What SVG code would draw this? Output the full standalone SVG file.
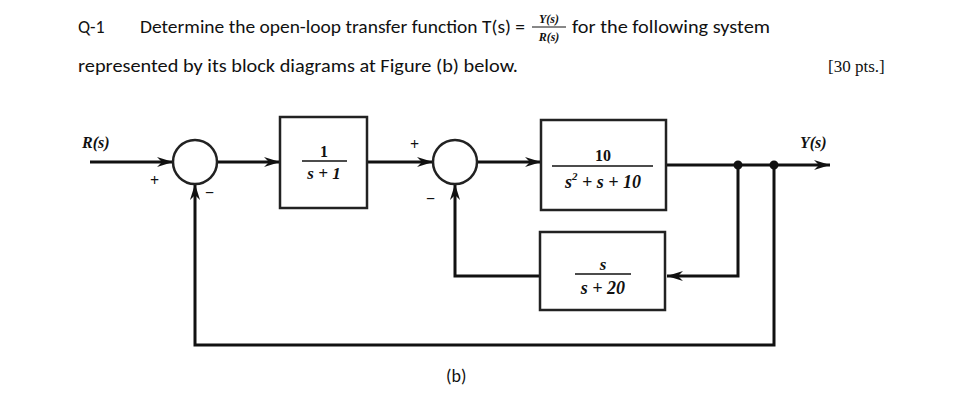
<svg xmlns="http://www.w3.org/2000/svg" width="970" height="403" viewBox="0 0 970 403">
<style>
.h{font-family:"Carlito","Liberation Sans",sans-serif;font-size:18px;fill:#111}
.m{font-family:"Liberation Serif",serif;font-weight:bold;font-style:italic;fill:#111}
.n{font-family:"Liberation Serif",serif;font-weight:bold;fill:#111;font-size:16px}
.ln{stroke:#111;stroke-width:3;fill:none}
.bx{stroke:#222;stroke-width:2.5;fill:#fff}
</style>
<defs><marker id="a" viewBox="0 0 16 10" refX="16" refY="5" markerWidth="16" markerHeight="10" orient="auto" markerUnits="userSpaceOnUse"><path d="M0,0 L16,5 L0,10 L5,5Z" fill="#111"/></marker></defs>
<rect width="970" height="403" fill="#fff"/>
<text class="h" x="78" y="33">Q-1</text>
<text class="h" x="140" y="33" textLength="385" lengthAdjust="spacingAndGlyphs">Determine the open-loop transfer function T(s) =</text>
<text class="m" x="549" y="23" font-size="12" font-weight="normal" text-anchor="middle">Y(s)</text>
<line x1="532" y1="27" x2="566" y2="27" stroke="#111" stroke-width="1"/>
<text class="m" x="549" y="41" font-size="12" font-weight="normal" text-anchor="middle">R(s)</text>
<text class="h" x="572" y="33" textLength="198" lengthAdjust="spacingAndGlyphs">for the following system</text>
<text class="h" x="78" y="72" textLength="440" lengthAdjust="spacingAndGlyphs">represented by its block diagrams at Figure (b) below.</text>
<text x="828" y="72" font-family="Liberation Serif,serif" font-size="17" fill="#111">[30 pts.]</text>
<text class="h" x="446" y="382">(b)</text>
<g id="connectors" class="ln">
<line x1="90" y1="162" x2="173" y2="162" marker-end="url(#a)"/>
<line x1="217" y1="162" x2="280" y2="162" marker-end="url(#a)"/>
<line x1="367" y1="162" x2="433" y2="162" marker-end="url(#a)"/>
<line x1="477" y1="162" x2="541" y2="162" marker-end="url(#a)"/>
<line x1="666" y1="165" x2="830" y2="165" marker-end="url(#a)"/>
<polyline points="738,165 738,276 667,276" marker-end="url(#a)"/>
<polyline points="540,276 455,276 455,184" marker-end="url(#a)"/>
<polyline points="774,165 774,345 195,345 195,184" marker-end="url(#a)"/>
<circle cx="738" cy="165" r="3" fill="#111"/>
<circle cx="774" cy="165" r="3" fill="#111"/>
</g>
<g id="sum1"><circle cx="195" cy="162" r="22" class="bx" stroke-width="2"/><text class="n" x="150" y="186">+</text><text class="n" x="205" y="198">−</text></g>
<g id="sum2"><circle cx="455" cy="162" r="22" class="bx" stroke-width="2"/><text class="n" x="410" y="150">+</text><text class="n" x="426" y="204">−</text></g>
<g id="g1"><rect x="280" y="117" width="87" height="91" class="bx"/><text class="n" x="324" y="157" text-anchor="middle" font-size="15">1</text><line x1="302" y1="161" x2="347" y2="161" stroke="#111" stroke-width="1.5"/><text class="m" x="324" y="179" text-anchor="middle" font-size="17">s + 1</text></g>
<g id="g2"><rect x="541" y="120" width="125" height="90" class="bx"/><text class="n" x="603" y="161" text-anchor="middle" font-size="18">10</text><line x1="552" y1="166" x2="653" y2="166" stroke="#111" stroke-width="1.5"/><text class="m" x="603" y="188" text-anchor="middle" font-size="18">s<tspan font-size="11" dy="-8">2</tspan><tspan dy="8"> + s + 10</tspan></text></g>
<g id="g3"><rect x="540" y="232" width="125" height="78" class="bx"/><text class="m" x="603" y="270" text-anchor="middle" font-size="17">s</text><line x1="575" y1="274" x2="631" y2="274" stroke="#111" stroke-width="1.5"/><text class="m" x="603" y="294" text-anchor="middle" font-size="18">s + 20</text></g>
<text class="m" x="82" y="148" font-size="16">R(s)</text>
<text class="m" x="800" y="148" font-size="16">Y(s)</text>
</svg>
